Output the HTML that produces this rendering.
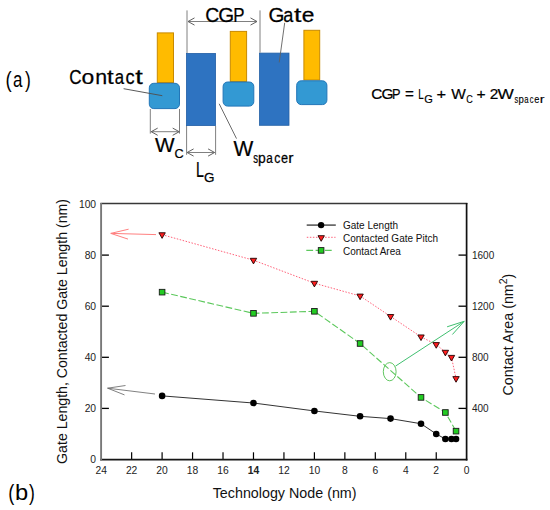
<!DOCTYPE html>
<html><head><meta charset="utf-8"><style>
html,body{margin:0;padding:0;background:#fff;width:550px;height:510px;overflow:hidden}
svg{display:block}
</style></head><body>
<svg width="550" height="510" viewBox="0 0 550 510">
<rect width="550" height="510" fill="#fff"/>
<rect x="157.3" y="32.9" width="16.2" height="49.6" fill="#FFBB00" stroke="#C88A00" stroke-width="1"/>
<rect x="230.3" y="31.4" width="16.3" height="50.1" fill="#FFBB00" stroke="#C88A00" stroke-width="1"/>
<rect x="303.9" y="30.3" width="15.8" height="49.7" fill="#FFBB00" stroke="#C88A00" stroke-width="1"/>
<rect x="149.3" y="83.3" width="30.2" height="25.3" rx="4.5" fill="#3399D3" stroke="#2276B8" stroke-width="1"/>
<rect x="223.1" y="82.0" width="30.7" height="24.1" rx="4.5" fill="#3399D3" stroke="#2276B8" stroke-width="1"/>
<rect x="296.7" y="80.8" width="30.2" height="23.8" rx="4.5" fill="#3399D3" stroke="#2276B8" stroke-width="1"/>
<rect x="186.4" y="53.4" width="29.2" height="72.2" fill="#2E73C1" stroke="#2360A6" stroke-width="0.8"/>
<rect x="259.5" y="53.1" width="29.5" height="72.2" fill="#2E73C1" stroke="#2360A6" stroke-width="0.8"/>
<line x1="187.0" y1="10.4" x2="187.0" y2="53" stroke="#808080" stroke-width="1"/>
<line x1="260.0" y1="10.4" x2="260.0" y2="52.7" stroke="#808080" stroke-width="1"/>
<line x1="188.0" y1="21.5" x2="257.0" y2="21.5" stroke="#808080" stroke-width="1"/>
<polyline points="194.5,17.9 188.0,21.5 194.5,25.1" fill="none" stroke="#606060" stroke-width="1"/>
<polyline points="250.5,17.9 257.0,21.5 250.5,25.1" fill="none" stroke="#606060" stroke-width="1"/>
<line x1="150.3" y1="109" x2="150.3" y2="133.6" stroke="#808080" stroke-width="1"/>
<line x1="179.5" y1="109" x2="179.5" y2="133.6" stroke="#808080" stroke-width="1"/>
<line x1="151.2" y1="131.7" x2="179.2" y2="131.7" stroke="#808080" stroke-width="1"/>
<polyline points="157.7,128.1 151.2,131.7 157.7,135.29999999999998" fill="none" stroke="#606060" stroke-width="1"/>
<polyline points="172.7,128.1 179.2,131.7 172.7,135.29999999999998" fill="none" stroke="#606060" stroke-width="1"/>
<line x1="186.6" y1="126" x2="186.6" y2="154.8" stroke="#808080" stroke-width="1"/>
<line x1="215.6" y1="126" x2="215.6" y2="154.8" stroke="#808080" stroke-width="1"/>
<line x1="187.1" y1="152.5" x2="214.6" y2="152.5" stroke="#808080" stroke-width="1"/>
<polyline points="193.6,148.9 187.1,152.5 193.6,156.1" fill="none" stroke="#606060" stroke-width="1"/>
<polyline points="208.1,148.9 214.6,152.5 208.1,156.1" fill="none" stroke="#606060" stroke-width="1"/>
<line x1="123.6" y1="88.7" x2="162.3" y2="95.7" stroke="#505050" stroke-width="0.95"/>
<line x1="284.7" y1="22.8" x2="279.2" y2="62.5" stroke="#606060" stroke-width="0.9"/>
<line x1="219.2" y1="103.8" x2="236.5" y2="138.6" stroke="#5A5A5A" stroke-width="0.9"/>
<text transform="translate(6.50,86.60) scale(0.823,1)" x="-1.35" y="0" font-size="22.5" fill="#000" stroke="#000" stroke-width="0" font-family="Liberation Sans, sans-serif">(</text>
<text transform="translate(13.60,86.60) scale(0.752,1)" x="-0.90" y="0" font-size="22.5" fill="#000" stroke="#000" stroke-width="0" font-family="Liberation Sans, sans-serif">a</text>
<text transform="translate(25.10,86.60) scale(0.778,1)" x="0.00" y="0" font-size="22.5" fill="#000" stroke="#000" stroke-width="0" font-family="Liberation Sans, sans-serif">)</text>
<text transform="translate(9.30,500.00) scale(0.821,1)" x="-1.33" y="0" font-size="22.1" fill="#000" stroke="#000" stroke-width="0" font-family="Liberation Sans, sans-serif">(</text>
<text transform="translate(16.40,500.00) scale(1.072,1)" x="-1.33" y="0" font-size="22.1" fill="#000" stroke="#000" stroke-width="0" font-family="Liberation Sans, sans-serif">b</text>
<text transform="translate(28.90,500.00) scale(0.792,1)" x="0.00" y="0" font-size="22.1" fill="#000" stroke="#000" stroke-width="0" font-family="Liberation Sans, sans-serif">)</text>
<text transform="translate(70.20,84.40) scale(0.815,1)" x="-1.04" y="0" font-size="20.9" fill="#000" stroke="#000" stroke-width="0.25" font-family="Liberation Sans, sans-serif">C</text>
<text transform="translate(82.50,84.40) scale(1.096,1)" x="-0.84" y="0" font-size="20.9" fill="#000" stroke="#000" stroke-width="0.25" font-family="Liberation Sans, sans-serif">o</text>
<text transform="translate(96.40,84.40) scale(1.022,1)" x="-1.25" y="0" font-size="20.9" fill="#000" stroke="#000" stroke-width="0.25" font-family="Liberation Sans, sans-serif">n</text>
<text transform="translate(107.30,84.40) scale(1.152,1)" x="-0.21" y="0" font-size="20.9" fill="#000" stroke="#000" stroke-width="0.25" font-family="Liberation Sans, sans-serif">t</text>
<text transform="translate(115.30,84.40) scale(0.801,1)" x="-0.84" y="0" font-size="20.9" fill="#000" stroke="#000" stroke-width="0.25" font-family="Liberation Sans, sans-serif">a</text>
<text transform="translate(126.20,84.40) scale(0.870,1)" x="-0.84" y="0" font-size="20.9" fill="#000" stroke="#000" stroke-width="0.25" font-family="Liberation Sans, sans-serif">c</text>
<text transform="translate(135.60,84.40) scale(1.294,1)" x="-0.21" y="0" font-size="20.9" fill="#000" stroke="#000" stroke-width="0.25" font-family="Liberation Sans, sans-serif">t</text>
<text transform="translate(206.10,21.60) scale(0.918,1)" x="-1.05" y="0" font-size="21.1" fill="#000" stroke="#000" stroke-width="0.25" font-family="Liberation Sans, sans-serif">C</text>
<text transform="translate(219.20,21.60) scale(0.969,1)" x="-1.05" y="0" font-size="21.1" fill="#000" stroke="#000" stroke-width="0.25" font-family="Liberation Sans, sans-serif">G</text>
<text transform="translate(234.50,21.60) scale(0.799,1)" x="-1.69" y="0" font-size="21.1" fill="#000" stroke="#000" stroke-width="0.25" font-family="Liberation Sans, sans-serif">P</text>
<text transform="translate(269.40,22.10) scale(1.008,1)" x="-1.01" y="0" font-size="20.3" fill="#000" stroke="#000" stroke-width="0.25" font-family="Liberation Sans, sans-serif">G</text>
<text transform="translate(284.00,22.10) scale(0.890,1)" x="-0.81" y="0" font-size="20.3" fill="#000" stroke="#000" stroke-width="0.25" font-family="Liberation Sans, sans-serif">a</text>
<text transform="translate(294.30,22.10) scale(1.314,1)" x="-0.20" y="0" font-size="20.3" fill="#000" stroke="#000" stroke-width="0.25" font-family="Liberation Sans, sans-serif">t</text>
<text transform="translate(302.60,22.10) scale(1.119,1)" x="-0.81" y="0" font-size="20.3" fill="#000" stroke="#000" stroke-width="0.25" font-family="Liberation Sans, sans-serif">e</text>
<text transform="translate(155.10,152.30) scale(0.992,1)" x="0.00" y="0" font-size="20.9" fill="#000" stroke="#000" stroke-width="0.25" font-family="Liberation Sans, sans-serif">W</text>
<text transform="translate(175.20,158.20) scale(0.974,1)" x="-0.65" y="0" font-size="13.0" fill="#000" stroke="#000" stroke-width="0.25" font-family="Liberation Sans, sans-serif">C</text>
<text transform="translate(197.10,176.50) scale(0.661,1)" x="-1.72" y="0" font-size="21.5" fill="#000" stroke="#000" stroke-width="0.25" font-family="Liberation Sans, sans-serif">L</text>
<text transform="translate(204.70,182.00) scale(0.999,1)" x="-0.68" y="0" font-size="13.5" fill="#000" stroke="#000" stroke-width="0.25" font-family="Liberation Sans, sans-serif">G</text>
<text transform="translate(233.50,156.20) scale(0.944,1)" x="0.00" y="0" font-size="22.2" fill="#000" stroke="#000" stroke-width="0.25" font-family="Liberation Sans, sans-serif">W</text>
<text transform="translate(253.40,162.50) scale(0.625,1)" x="-0.31" y="0" font-size="15.3" fill="#000" stroke="#000" stroke-width="0.25" font-family="Liberation Sans, sans-serif">s</text>
<text transform="translate(258.80,162.50) scale(0.909,1)" x="-0.92" y="0" font-size="15.3" fill="#000" stroke="#000" stroke-width="0.25" font-family="Liberation Sans, sans-serif">p</text>
<text transform="translate(266.60,162.50) scale(0.767,1)" x="-0.61" y="0" font-size="15.3" fill="#000" stroke="#000" stroke-width="0.25" font-family="Liberation Sans, sans-serif">a</text>
<text transform="translate(274.80,162.50) scale(0.802,1)" x="-0.61" y="0" font-size="15.3" fill="#000" stroke="#000" stroke-width="0.25" font-family="Liberation Sans, sans-serif">c</text>
<text transform="translate(281.60,162.50) scale(0.831,1)" x="-0.61" y="0" font-size="15.3" fill="#000" stroke="#000" stroke-width="0.25" font-family="Liberation Sans, sans-serif">e</text>
<text transform="translate(289.10,162.50) scale(1.031,1)" x="-0.92" y="0" font-size="15.3" fill="#000" stroke="#000" stroke-width="0.25" font-family="Liberation Sans, sans-serif">r</text>
<text transform="translate(372.00,98.60) scale(1.021,1)" x="-0.75" y="0" font-size="15.0" fill="#000" stroke="#000" stroke-width="0.2" font-family="Liberation Sans, sans-serif">C</text>
<text transform="translate(382.20,98.60) scale(1.030,1)" x="-0.75" y="0" font-size="15.0" fill="#000" stroke="#000" stroke-width="0.2" font-family="Liberation Sans, sans-serif">G</text>
<text transform="translate(393.10,98.60) scale(0.852,1)" x="-1.20" y="0" font-size="15.0" fill="#000" stroke="#000" stroke-width="0.2" font-family="Liberation Sans, sans-serif">P</text>
<text transform="translate(405.50,98.60) scale(1.027,1)" x="-0.59" y="0" font-size="14.8" fill="#000" stroke="#000" stroke-width="0.2" font-family="Liberation Sans, sans-serif">=</text>
<text transform="translate(419.10,98.70) scale(0.661,1)" x="-1.18" y="0" font-size="14.8" fill="#000" stroke="#000" stroke-width="0.2" font-family="Liberation Sans, sans-serif">L</text>
<text transform="translate(424.90,103.00) scale(1.084,1)" x="-0.51" y="0" font-size="10.2" fill="#000" stroke="#000" stroke-width="0.15" font-family="Liberation Sans, sans-serif">G</text>
<text transform="translate(437.10,98.60) scale(1.108,1)" x="-0.59" y="0" font-size="14.8" fill="#000" stroke="#000" stroke-width="0.2" font-family="Liberation Sans, sans-serif">+</text>
<text transform="translate(451.30,98.80) scale(1.032,1)" x="0.00" y="0" font-size="15.0" fill="#000" stroke="#000" stroke-width="0.2" font-family="Liberation Sans, sans-serif">W</text>
<text transform="translate(466.70,103.30) scale(0.863,1)" x="-0.53" y="0" font-size="10.5" fill="#000" stroke="#000" stroke-width="0.15" font-family="Liberation Sans, sans-serif">C</text>
<text transform="translate(477.10,98.60) scale(1.054,1)" x="-0.59" y="0" font-size="14.8" fill="#000" stroke="#000" stroke-width="0.2" font-family="Liberation Sans, sans-serif">+</text>
<text transform="translate(490.50,98.80) scale(1.043,1)" x="-0.74" y="0" font-size="14.8" fill="#000" stroke="#000" stroke-width="0.2" font-family="Liberation Sans, sans-serif">2</text>
<text transform="translate(497.60,98.80) scale(1.151,1)" x="0.00" y="0" font-size="15.0" fill="#000" stroke="#000" stroke-width="0.2" font-family="Liberation Sans, sans-serif">W</text>
<text transform="translate(514.70,102.90) scale(0.667,1)" x="-0.22" y="0" font-size="11.0" fill="#000" stroke="#000" stroke-width="0.15" font-family="Liberation Sans, sans-serif">s</text>
<text transform="translate(519.10,102.90) scale(0.870,1)" x="-0.66" y="0" font-size="11.0" fill="#000" stroke="#000" stroke-width="0.15" font-family="Liberation Sans, sans-serif">p</text>
<text transform="translate(524.50,102.90) scale(0.699,1)" x="-0.44" y="0" font-size="11.0" fill="#000" stroke="#000" stroke-width="0.15" font-family="Liberation Sans, sans-serif">a</text>
<text transform="translate(530.00,102.90) scale(0.682,1)" x="-0.44" y="0" font-size="11.0" fill="#000" stroke="#000" stroke-width="0.15" font-family="Liberation Sans, sans-serif">c</text>
<text transform="translate(534.70,102.90) scale(0.833,1)" x="-0.44" y="0" font-size="11.0" fill="#000" stroke="#000" stroke-width="0.15" font-family="Liberation Sans, sans-serif">e</text>
<text transform="translate(540.50,102.90) scale(1.294,1)" x="-0.66" y="0" font-size="11.0" fill="#000" stroke="#000" stroke-width="0.15" font-family="Liberation Sans, sans-serif">r</text>
<line x1="131.64" y1="459.5" x2="131.64" y2="452.3" stroke="#000" stroke-width="1.2"/>
<line x1="162.09999999999997" y1="459.5" x2="162.09999999999997" y2="452.3" stroke="#000" stroke-width="1.2"/>
<line x1="192.56" y1="459.5" x2="192.56" y2="452.3" stroke="#000" stroke-width="1.2"/>
<line x1="223.01999999999998" y1="459.5" x2="223.01999999999998" y2="452.3" stroke="#000" stroke-width="1.2"/>
<line x1="253.48" y1="459.5" x2="253.48" y2="452.3" stroke="#000" stroke-width="1.2"/>
<line x1="283.94" y1="459.5" x2="283.94" y2="452.3" stroke="#000" stroke-width="1.2"/>
<line x1="314.4" y1="459.5" x2="314.4" y2="452.3" stroke="#000" stroke-width="1.2"/>
<line x1="344.86" y1="459.5" x2="344.86" y2="452.3" stroke="#000" stroke-width="1.2"/>
<line x1="375.32" y1="459.5" x2="375.32" y2="452.3" stroke="#000" stroke-width="1.2"/>
<line x1="405.78" y1="459.5" x2="405.78" y2="452.3" stroke="#000" stroke-width="1.2"/>
<line x1="436.24" y1="459.5" x2="436.24" y2="452.3" stroke="#000" stroke-width="1.2"/>
<line x1="101.2" y1="408.4" x2="108.9" y2="408.4" stroke="#000" stroke-width="1.3"/>
<line x1="101.2" y1="357.3" x2="108.9" y2="357.3" stroke="#000" stroke-width="1.3"/>
<line x1="101.2" y1="306.2" x2="108.9" y2="306.2" stroke="#000" stroke-width="1.3"/>
<line x1="101.2" y1="255.1" x2="108.9" y2="255.1" stroke="#000" stroke-width="1.3"/>
<line x1="458.5" y1="408.4" x2="466.7" y2="408.4" stroke="#000" stroke-width="1.3"/>
<line x1="458.5" y1="357.3" x2="466.7" y2="357.3" stroke="#000" stroke-width="1.3"/>
<line x1="458.5" y1="306.2" x2="466.7" y2="306.2" stroke="#000" stroke-width="1.3"/>
<line x1="458.5" y1="255.1" x2="466.7" y2="255.1" stroke="#000" stroke-width="1.3"/>
<line x1="100.4" y1="203.6" x2="467.4" y2="203.6" stroke="#383838" stroke-width="1.5"/>
<line x1="466.6" y1="202.9" x2="466.6" y2="460.4" stroke="#111" stroke-width="1.7"/>
<line x1="100.2" y1="459.6" x2="467.4" y2="459.6" stroke="#161616" stroke-width="1.6"/>
<line x1="101.1" y1="202.9" x2="101.1" y2="460.4" stroke="#787878" stroke-width="1.9"/>
<text x="101.18" y="474.3" font-size="10.3" text-anchor="middle" fill="#222" font-family="Liberation Sans, sans-serif" >24</text>
<text x="131.64" y="474.3" font-size="10.3" text-anchor="middle" fill="#222" font-family="Liberation Sans, sans-serif" >22</text>
<text x="162.10" y="474.3" font-size="10.3" text-anchor="middle" fill="#222" font-family="Liberation Sans, sans-serif" >20</text>
<text x="192.56" y="474.3" font-size="10.3" text-anchor="middle" fill="#222" font-family="Liberation Sans, sans-serif" >18</text>
<text x="223.02" y="474.3" font-size="10.3" text-anchor="middle" fill="#222" font-family="Liberation Sans, sans-serif" >16</text>
<text x="253.48" y="474.3" font-size="10.3" text-anchor="middle" fill="#222" font-family="Liberation Sans, sans-serif" font-weight="bold">14</text>
<text x="283.94" y="474.3" font-size="10.3" text-anchor="middle" fill="#222" font-family="Liberation Sans, sans-serif" >12</text>
<text x="314.40" y="474.3" font-size="10.3" text-anchor="middle" fill="#222" font-family="Liberation Sans, sans-serif" >10</text>
<text x="344.86" y="474.3" font-size="10.3" text-anchor="middle" fill="#222" font-family="Liberation Sans, sans-serif" >8</text>
<text x="375.32" y="474.3" font-size="10.3" text-anchor="middle" fill="#222" font-family="Liberation Sans, sans-serif" >6</text>
<text x="405.78" y="474.3" font-size="10.3" text-anchor="middle" fill="#222" font-family="Liberation Sans, sans-serif" >4</text>
<text x="436.24" y="474.3" font-size="10.3" text-anchor="middle" fill="#222" font-family="Liberation Sans, sans-serif" >2</text>
<text x="466.70" y="474.3" font-size="10.3" text-anchor="middle" fill="#222" font-family="Liberation Sans, sans-serif" >0</text>
<text x="96.1" y="463.10" font-size="10.3" text-anchor="end" fill="#222" font-family="Liberation Sans, sans-serif">0</text>
<text x="96.1" y="412.00" font-size="10.3" text-anchor="end" fill="#222" font-family="Liberation Sans, sans-serif">20</text>
<text x="96.1" y="360.90" font-size="10.3" text-anchor="end" fill="#222" font-family="Liberation Sans, sans-serif">40</text>
<text x="96.1" y="309.80" font-size="10.3" text-anchor="end" fill="#222" font-family="Liberation Sans, sans-serif">60</text>
<text x="96.1" y="258.70" font-size="10.3" text-anchor="end" fill="#222" font-family="Liberation Sans, sans-serif">80</text>
<text x="96.1" y="207.60" font-size="10.3" text-anchor="end" fill="#222" font-family="Liberation Sans, sans-serif">100</text>
<text x="472" y="412.00" font-size="10" fill="#222" font-family="Liberation Sans, sans-serif">400</text>
<text x="472" y="360.90" font-size="10" fill="#222" font-family="Liberation Sans, sans-serif">800</text>
<text x="472" y="309.80" font-size="10" fill="#222" font-family="Liberation Sans, sans-serif">1200</text>
<text x="472" y="258.70" font-size="10" fill="#222" font-family="Liberation Sans, sans-serif">1600</text>
<text x="212.7" y="498" font-size="14.3" fill="#111" font-family="Liberation Sans, sans-serif">Technology Node (nm)</text>
<text transform="translate(67.2,463.9) rotate(-90)" font-size="14.15" fill="#111" font-family="Liberation Sans, sans-serif">Gate Length, Contacted Gate Length (nm)</text>
<text transform="translate(513.0,395.5) rotate(-90)" font-size="14.3" fill="#111" font-family="Liberation Sans, sans-serif">Contact Area (nm<tspan font-size="10.5" dy="-6.5">2</tspan><tspan dy="6.5">)</tspan></text>
<path d="M162.10,395.88 L253.48,403.03 L314.40,410.95 L360.09,416.32 L390.55,418.62 L421.01,423.73 L436.24,433.95 L445.38,439.06 L451.47,439.06 L456.04,439.06" fill="none" stroke="#333" stroke-width="1"/>
<path d="M162.10,234.66 L253.48,260.21 L314.40,283.20 L360.09,295.98 L390.55,316.42 L421.01,336.86 L436.24,344.52 L445.38,352.19 L451.47,357.30 L456.04,378.51" fill="none" stroke="#FF6078" stroke-width="1" stroke-dasharray="1.5,1.55"/>
<path d="M162.10,292.15 L253.48,313.35 L314.40,311.31 L360.09,343.50 L421.01,397.41 L445.38,412.49 L456.04,431.14" fill="none" stroke="#5CC85C" stroke-width="1.1" stroke-dasharray="6.8,2.5"/>
<path d="M156,234.6 L110.8,233.4 M128.6,229.2 L110.8,233.4 L128,239.1" fill="none" stroke="#FF8080" stroke-width="1"/>
<path d="M155,394 L107.6,388.2 M125.5,385.5 L107.6,388.2 L124.5,394.9" fill="none" stroke="#6A6A6A" stroke-width="0.85"/>
<path d="M395.5,366.1 L464.2,321.3 M447.1,326.8 L464.2,321.3 L452.4,334.5" fill="none" stroke="#40C070" stroke-width="1"/>
<ellipse cx="389.7" cy="371.7" rx="6.4" ry="9.1" fill="none" stroke="#50C050" stroke-width="0.9"/>
<circle cx="162.10" cy="395.88" r="3.3" fill="#000"/>
<circle cx="253.48" cy="403.03" r="3.3" fill="#000"/>
<circle cx="314.40" cy="410.95" r="3.3" fill="#000"/>
<circle cx="360.09" cy="416.32" r="3.3" fill="#000"/>
<circle cx="390.55" cy="418.62" r="3.3" fill="#000"/>
<circle cx="421.01" cy="423.73" r="3.3" fill="#000"/>
<circle cx="436.24" cy="433.95" r="3.3" fill="#000"/>
<circle cx="445.38" cy="439.06" r="3.3" fill="#000"/>
<circle cx="451.47" cy="439.06" r="3.3" fill="#000"/>
<circle cx="456.04" cy="439.06" r="3.3" fill="#000"/>
<path d="M158.90,232.76 L165.30,232.76 L162.10,238.36 Z" fill="#FF1E1E" stroke="#200000" stroke-width="0.9" stroke-linejoin="miter"/>
<path d="M250.28,258.31 L256.68,258.31 L253.48,263.91 Z" fill="#FF1E1E" stroke="#200000" stroke-width="0.9" stroke-linejoin="miter"/>
<path d="M311.20,281.31 L317.60,281.31 L314.40,286.90 Z" fill="#FF1E1E" stroke="#200000" stroke-width="0.9" stroke-linejoin="miter"/>
<path d="M356.89,294.08 L363.29,294.08 L360.09,299.68 Z" fill="#FF1E1E" stroke="#200000" stroke-width="0.9" stroke-linejoin="miter"/>
<path d="M387.35,314.52 L393.75,314.52 L390.55,320.12 Z" fill="#FF1E1E" stroke="#200000" stroke-width="0.9" stroke-linejoin="miter"/>
<path d="M417.81,334.96 L424.21,334.96 L421.01,340.56 Z" fill="#FF1E1E" stroke="#200000" stroke-width="0.9" stroke-linejoin="miter"/>
<path d="M433.04,342.62 L439.44,342.62 L436.24,348.22 Z" fill="#FF1E1E" stroke="#200000" stroke-width="0.9" stroke-linejoin="miter"/>
<path d="M442.18,350.29 L448.58,350.29 L445.38,355.89 Z" fill="#FF1E1E" stroke="#200000" stroke-width="0.9" stroke-linejoin="miter"/>
<path d="M448.27,355.40 L454.67,355.40 L451.47,361.00 Z" fill="#FF1E1E" stroke="#200000" stroke-width="0.9" stroke-linejoin="miter"/>
<path d="M452.84,376.61 L459.24,376.61 L456.04,382.21 Z" fill="#FF1E1E" stroke="#200000" stroke-width="0.9" stroke-linejoin="miter"/>
<rect x="159.30" y="289.35" width="5.6" height="5.6" fill="#22CC22" stroke="#1A1A1A" stroke-width="0.9"/>
<rect x="250.68" y="310.55" width="5.6" height="5.6" fill="#22CC22" stroke="#1A1A1A" stroke-width="0.9"/>
<rect x="311.60" y="308.51" width="5.6" height="5.6" fill="#22CC22" stroke="#1A1A1A" stroke-width="0.9"/>
<rect x="357.29" y="340.70" width="5.6" height="5.6" fill="#22CC22" stroke="#1A1A1A" stroke-width="0.9"/>
<rect x="418.21" y="394.61" width="5.6" height="5.6" fill="#22CC22" stroke="#1A1A1A" stroke-width="0.9"/>
<rect x="442.58" y="409.69" width="5.6" height="5.6" fill="#22CC22" stroke="#1A1A1A" stroke-width="0.9"/>
<rect x="453.24" y="428.34" width="5.6" height="5.6" fill="#22CC22" stroke="#1A1A1A" stroke-width="0.9"/>
<line x1="306.7" y1="225.1" x2="335.8" y2="225.1" stroke="#505050" stroke-width="1.5"/>
<circle cx="321.10" cy="225.10" r="3.2" fill="#000"/>
<line x1="306.8" y1="237.3" x2="335.5" y2="237.3" stroke="#FF6078" stroke-width="1" stroke-dasharray="1.5,1.55"/>
<path d="M318.00,235.70 L324.40,235.70 L321.20,241.30 Z" fill="#FF1E1E" stroke="#200000" stroke-width="0.9" stroke-linejoin="miter"/>
<line x1="306.3" y1="250.4" x2="333.0" y2="250.4" stroke="#5CC85C" stroke-width="1.1" stroke-dasharray="6.8,2.5"/>
<rect x="318.30" y="247.60" width="5.6" height="5.6" fill="#22CC22" stroke="#1A1A1A" stroke-width="0.9"/>
<text x="343.0" y="228.9" font-size="10" fill="#111" font-family="Liberation Sans, sans-serif">Gate Length</text>
<text x="343.0" y="241.7" font-size="10" fill="#111" font-family="Liberation Sans, sans-serif">Contacted Gate Pitch</text>
<text x="343.0" y="254.8" font-size="10" fill="#111" font-family="Liberation Sans, sans-serif">Contact Area</text>
</svg></body></html>
